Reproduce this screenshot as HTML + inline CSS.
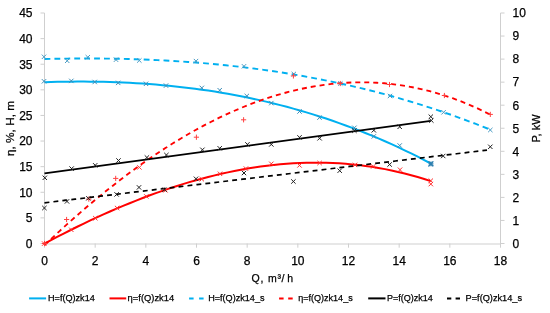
<!DOCTYPE html><html><head><meta charset="utf-8"><style>html,body{margin:0;padding:0;background:#fff;}svg{display:block;}text{font-family:"Liberation Sans",sans-serif;fill:#000;stroke:#000;stroke-width:0.25px;}</style></head><body>
<svg width="550" height="313" viewBox="0 0 550 313">
<rect width="550" height="313" fill="#fff"/>
<g stroke="#CFCFCF" stroke-width="1" fill="none">
<path d="M44.5,13.0 V244.0 M44.5,244.0 H500.5 M500.5,244.0 V13.0"/>
<path d="M40.5,243.50 H44.5"/>
<path d="M40.5,217.89 H44.5"/>
<path d="M40.5,192.28 H44.5"/>
<path d="M40.5,166.67 H44.5"/>
<path d="M40.5,141.06 H44.5"/>
<path d="M40.5,115.44 H44.5"/>
<path d="M40.5,89.83 H44.5"/>
<path d="M40.5,64.22 H44.5"/>
<path d="M40.5,38.61 H44.5"/>
<path d="M40.5,13.00 H44.5"/>
<path d="M500.5,243.50 H504.5"/>
<path d="M500.5,220.45 H504.5"/>
<path d="M500.5,197.40 H504.5"/>
<path d="M500.5,174.35 H504.5"/>
<path d="M500.5,151.30 H504.5"/>
<path d="M500.5,128.25 H504.5"/>
<path d="M500.5,105.20 H504.5"/>
<path d="M500.5,82.15 H504.5"/>
<path d="M500.5,59.10 H504.5"/>
<path d="M500.5,36.05 H504.5"/>
<path d="M500.5,13.00 H504.5"/>
<path d="M44.50,243.5 V247.7"/>
<path d="M95.17,243.5 V247.7"/>
<path d="M145.83,243.5 V247.7"/>
<path d="M196.50,243.5 V247.7"/>
<path d="M247.17,243.5 V247.7"/>
<path d="M297.83,243.5 V247.7"/>
<path d="M348.50,243.5 V247.7"/>
<path d="M399.17,243.5 V247.7"/>
<path d="M449.83,243.5 V247.7"/>
<path d="M500.50,243.5 V247.7"/>
</g>
<g font-size="12">
<text x="32.5" y="247.80" text-anchor="end">0</text>
<text x="32.5" y="222.19" text-anchor="end">5</text>
<text x="32.5" y="196.58" text-anchor="end">10</text>
<text x="32.5" y="170.97" text-anchor="end">15</text>
<text x="32.5" y="145.36" text-anchor="end">20</text>
<text x="32.5" y="119.74" text-anchor="end">25</text>
<text x="32.5" y="94.13" text-anchor="end">30</text>
<text x="32.5" y="68.52" text-anchor="end">35</text>
<text x="32.5" y="42.91" text-anchor="end">40</text>
<text x="32.5" y="17.30" text-anchor="end">45</text>
<text x="512.5" y="247.80">0</text>
<text x="512.5" y="224.75">1</text>
<text x="512.5" y="201.70">2</text>
<text x="512.5" y="178.65">3</text>
<text x="512.5" y="155.60">4</text>
<text x="512.5" y="132.55">5</text>
<text x="512.5" y="109.50">6</text>
<text x="512.5" y="86.45">7</text>
<text x="512.5" y="63.40">8</text>
<text x="512.5" y="40.35">9</text>
<text x="512.5" y="17.30">10</text>
<text x="44.50" y="265" text-anchor="middle">0</text>
<text x="95.17" y="265" text-anchor="middle">2</text>
<text x="145.83" y="265" text-anchor="middle">4</text>
<text x="196.50" y="265" text-anchor="middle">6</text>
<text x="247.17" y="265" text-anchor="middle">8</text>
<text x="297.83" y="265" text-anchor="middle">10</text>
<text x="348.50" y="265" text-anchor="middle">12</text>
<text x="399.17" y="265" text-anchor="middle">14</text>
<text x="449.83" y="265" text-anchor="middle">16</text>
<text x="500.50" y="265" text-anchor="middle">18</text>
</g>
<text x="251.4 260.6 263 267.9 277.6 281.6 287.2" y="282.2" font-size="10.5">Q, m³/h</text>
<text transform="translate(13.8,156) rotate(-90)" font-size="11" textLength="55" lengthAdjust="spacingAndGlyphs">η, %,  H, m</text>
<text transform="translate(540.2,142.4) rotate(-90)" font-size="11" textLength="28" lengthAdjust="spacingAndGlyphs">P, kW</text>
<path d="M44.50,59.01 L52.06,58.84 L59.61,58.70 L67.17,58.59 L74.72,58.52 L82.28,58.48 L89.84,58.48 L97.39,58.51 L104.95,58.58 L112.50,58.68 L120.06,58.82 L127.62,59.00 L135.17,59.22 L142.73,59.49 L150.28,59.79 L157.84,60.13 L165.39,60.52 L172.95,60.95 L180.51,61.43 L188.06,61.95 L195.62,62.52 L203.17,63.13 L210.73,63.79 L218.29,64.50 L225.84,65.27 L233.40,66.08 L240.95,66.94 L248.51,67.86 L256.07,68.82 L263.62,69.84 L271.18,70.92 L278.73,72.05 L286.29,73.24 L293.85,74.49 L301.40,75.79 L308.96,77.15 L316.51,78.57 L324.07,80.06 L331.63,81.60 L339.18,83.20 L346.74,84.87 L354.29,86.61 L361.85,88.40 L369.41,90.27 L376.96,92.19 L384.52,94.19 L392.07,96.25 L399.63,98.39 L407.18,100.59 L414.74,102.86 L422.30,105.21 L429.85,107.62 L437.41,110.11 L444.96,112.68 L452.52,115.31 L460.08,118.03 L467.63,120.82 L475.19,123.68 L482.74,126.63 L490.30,129.65" fill="none" stroke="#00B0F0" stroke-width="1.9" stroke-dasharray="5.85,4.07"/>
<path d="M44.50,81.80 L51.05,81.60 L57.59,81.44 L64.14,81.31 L70.69,81.23 L77.24,81.19 L83.78,81.19 L90.33,81.23 L96.88,81.32 L103.43,81.45 L109.97,81.62 L116.52,81.84 L123.07,82.10 L129.62,82.42 L136.16,82.78 L142.71,83.19 L149.26,83.65 L155.81,84.16 L162.35,84.73 L168.90,85.34 L175.45,86.01 L182.00,86.74 L188.54,87.51 L195.09,88.35 L201.64,89.24 L208.19,90.19 L214.73,91.20 L221.28,92.27 L227.83,93.40 L234.38,94.59 L240.92,95.84 L247.47,97.16 L254.02,98.53 L260.57,99.98 L267.11,101.49 L273.66,103.06 L280.21,104.71 L286.76,106.42 L293.30,108.20 L299.85,110.05 L306.40,111.97 L312.95,113.97 L319.49,116.03 L326.04,118.17 L332.59,120.38 L339.14,122.67 L345.68,125.04 L352.23,127.48 L358.78,130.00 L365.33,132.60 L371.87,135.27 L378.42,138.03 L384.97,140.87 L391.52,143.79 L398.06,146.80 L404.61,149.89 L411.16,153.06 L417.71,156.32 L424.25,159.66 L430.80,163.10" fill="none" stroke="#00B0F0" stroke-width="2.0" transform="translate(0,0.4)"/>
<path d="M44.50,244.80 L52.06,237.66 L59.61,230.66 L67.17,223.78 L74.72,217.05 L82.28,210.46 L89.84,204.01 L97.39,197.70 L104.95,191.53 L112.50,185.52 L120.06,179.65 L127.62,173.93 L135.17,168.37 L142.73,162.96 L150.28,157.70 L157.84,152.61 L165.39,147.68 L172.95,142.90 L180.51,138.30 L188.06,133.86 L195.62,129.58 L203.17,125.48 L210.73,121.55 L218.29,117.79 L225.84,114.21 L233.40,110.80 L240.95,107.57 L248.51,104.53 L256.07,101.67 L263.62,98.99 L271.18,96.50 L278.73,94.20 L286.29,92.09 L293.85,90.18 L301.40,88.45 L308.96,86.93 L316.51,85.60 L324.07,84.47 L331.63,83.55 L339.18,82.83 L346.74,82.31 L354.29,82.01 L361.85,81.91 L369.41,82.02 L376.96,82.35 L384.52,82.89 L392.07,83.66 L399.63,84.64 L407.18,85.84 L414.74,87.26 L422.30,88.91 L429.85,90.79 L437.41,92.89 L444.96,95.23 L452.52,97.80 L460.08,100.60 L467.63,103.64 L475.19,106.92 L482.74,110.44 L490.30,114.20" fill="none" stroke="#FF0000" stroke-width="1.85" stroke-dasharray="5,3.97" transform="translate(0,0.4)"/>
<path d="M44.50,243.59 L51.05,240.11 L57.59,236.69 L64.14,233.32 L70.69,230.01 L77.24,226.77 L83.78,223.59 L90.33,220.47 L96.88,217.42 L103.43,214.44 L109.97,211.53 L116.52,208.68 L123.07,205.91 L129.62,203.21 L136.16,200.59 L142.71,198.03 L149.26,195.56 L155.81,193.17 L162.35,190.85 L168.90,188.61 L175.45,186.46 L182.00,184.39 L188.54,182.41 L195.09,180.51 L201.64,178.70 L208.19,176.98 L214.73,175.35 L221.28,173.81 L227.83,172.36 L234.38,171.01 L240.92,169.75 L247.47,168.60 L254.02,167.54 L260.57,166.58 L267.11,165.72 L273.66,164.96 L280.21,164.31 L286.76,163.76 L293.30,163.32 L299.85,162.99 L306.40,162.77 L312.95,162.65 L319.49,162.65 L326.04,162.77 L332.59,163.00 L339.14,163.34 L345.68,163.80 L352.23,164.39 L358.78,165.09 L365.33,165.91 L371.87,166.86 L378.42,167.93 L384.97,169.12 L391.52,170.45 L398.06,171.90 L404.61,173.48 L411.16,175.19 L417.71,177.04 L424.25,179.02 L430.80,181.13" fill="none" stroke="#FF0000" stroke-width="2.0"/>
<path d="M44.50,172.81 L430.80,120.35" fill="none" stroke="#000000" stroke-width="1.8" transform="translate(0,0.5)"/>
<path d="M44.50,202.83 L59.76,201.01 L75.02,199.19 L90.28,197.37 L105.53,195.55 L120.79,193.73 L136.05,191.91 L151.31,190.09 L166.57,188.27 L181.83,186.45 L197.09,184.64 L212.34,182.82 L227.60,181.00 L242.86,179.18 L258.12,177.36 L273.38,175.54 L288.64,173.73 L303.90,171.91 L319.16,170.09 L334.41,168.28 L349.67,166.46 L364.93,164.64 L380.19,162.83 L395.45,161.01 L410.71,159.19 L425.97,157.38 L441.22,155.56 L456.48,153.75 L471.74,151.93 L487.00,150.12" fill="none" stroke="#000000" stroke-width="1.7" stroke-dasharray="4.9,4.1"/>
<path d="M41.80,54.60 L46.20,59.00 M41.80,59.00 L46.20,54.60 M65.00,58.60 L69.40,63.00 M65.00,63.00 L69.40,58.60 M85.60,55.00 L90.00,59.40 M85.60,59.40 L90.00,55.00 M113.80,57.50 L118.20,61.90 M113.80,61.90 L118.20,57.50 M137.10,58.30 L141.50,62.70 M137.10,62.70 L141.50,58.30 M193.80,58.90 L198.20,63.30 M193.80,63.30 L198.20,58.90 M241.80,64.10 L246.20,68.50 M241.80,68.50 L246.20,64.10 M291.60,71.80 L296.00,76.20 M291.60,76.20 L296.00,71.80 M338.10,81.30 L342.50,85.70 M338.10,85.70 L342.50,81.30 M387.80,93.80 L392.20,98.20 M387.80,98.20 L392.20,93.80 M441.40,110.10 L445.80,114.50 M441.40,114.50 L445.80,110.10 M488.10,127.80 L492.50,132.20 M488.10,132.20 L492.50,127.80" stroke="#4A9CC4" stroke-width="1" fill="none"/>
<path d="M41.80,79.10 L46.20,83.50 M41.80,83.50 L46.20,79.10 M69.10,78.70 L73.50,83.10 M69.10,83.10 L73.50,78.70 M92.50,79.80 L96.90,84.20 M92.50,84.20 L96.90,79.80 M116.00,80.70 L120.40,85.10 M116.00,85.10 L120.40,80.70 M143.80,81.60 L148.20,86.00 M143.80,86.00 L148.20,81.60 M163.80,83.40 L168.20,87.80 M163.80,87.80 L168.20,83.40 M199.60,85.70 L204.00,90.10 M199.60,90.10 L204.00,85.70 M217.50,88.00 L221.90,92.40 M217.50,92.40 L221.90,88.00 M244.60,93.80 L249.00,98.20 M244.60,98.20 L249.00,93.80 M269.10,100.90 L273.50,105.30 M269.10,105.30 L273.50,100.90 M297.30,109.30 L301.70,113.70 M297.30,113.70 L301.70,109.30 M317.30,115.40 L321.70,119.80 M317.30,119.80 L321.70,115.40 M352.20,125.60 L356.60,130.00 M352.20,130.00 L356.60,125.60 M371.60,134.20 L376.00,138.60 M371.60,138.60 L376.00,134.20 M397.50,143.30 L401.90,147.70 M397.50,147.70 L401.90,143.30 M428.60,161.80 L433.00,166.20 M428.60,166.20 L433.00,161.80 M428.60,161.80 L433.00,166.20 M428.60,166.20 L433.00,161.80" stroke="#3E8FB8" stroke-width="1" fill="none"/>
<path d="M428.60,163.80 H433.40 M431.00,161.40 V166.20" stroke="#2F7FAF" stroke-width="1.3" fill="none"/>
<path d="M428.60,161.40 L433.40,166.20 M428.60,166.20 L433.40,161.40" stroke="#2F7FAF" stroke-width="1.3" fill="none"/>
<path d="M41.90,243.50 H47.10 M44.50,240.90 V246.10 M64.00,219.50 H69.20 M66.60,216.90 V222.10 M86.20,199.10 H91.40 M88.80,196.50 V201.70 M113.10,178.40 H118.30 M115.70,175.80 V181.00 M193.80,137.20 H199.00 M196.40,134.60 V139.80 M241.00,119.80 H246.20 M243.60,117.20 V122.40 M290.80,75.90 H296.00 M293.40,73.30 V78.50 M337.70,83.50 H342.90 M340.30,80.90 V86.10 M386.90,84.50 H392.10 M389.50,81.90 V87.10 M441.80,95.50 H447.00 M444.40,92.90 V98.10 M487.70,114.40 H492.90 M490.30,111.80 V117.00" stroke="#FF4040" stroke-width="1" fill="none"/>
<path d="M137.20,165.20 L141.60,169.60 M137.20,169.60 L141.60,165.20" stroke="#FF4040" stroke-width="1" fill="none"/>
<path d="M42.00,241.40 L46.40,245.80 M42.00,245.80 L46.40,241.40 M69.10,227.60 L73.50,232.00 M69.10,232.00 L73.50,227.60 M93.10,216.00 L97.50,220.40 M93.10,220.40 L97.50,216.00 M114.90,205.80 L119.30,210.20 M114.90,210.20 L119.30,205.80 M144.10,194.20 L148.50,198.60 M144.10,198.60 L148.50,194.20 M163.20,188.10 L167.60,192.50 M163.20,192.50 L167.60,188.10 M199.60,177.00 L204.00,181.40 M199.60,181.40 L204.00,177.00 M217.80,171.60 L222.20,176.00 M217.80,176.00 L222.20,171.60 M243.70,166.40 L248.10,170.80 M243.70,170.80 L248.10,166.40 M269.10,161.60 L273.50,166.00 M269.10,166.00 L273.50,161.60 M297.30,163.20 L301.70,167.60 M297.30,167.60 L301.70,163.20 M317.40,160.80 L321.80,165.20 M317.40,165.20 L321.80,160.80 M352.80,162.70 L357.20,167.10 M352.80,167.10 L357.20,162.70 M371.00,164.20 L375.40,168.60 M371.00,168.60 L375.40,164.20 M397.80,167.50 L402.20,171.90 M397.80,171.90 L402.20,167.50 M428.60,178.50 L433.00,182.90 M428.60,182.90 L433.00,178.50 M428.60,181.90 L433.00,186.30 M428.60,186.30 L433.00,181.90" stroke="#FF3030" stroke-width="1" fill="none"/>
<path d="M42.60,175.60 L47.00,180.00 M42.60,180.00 L47.00,175.60 M69.40,166.40 L73.80,170.80 M69.40,170.80 L73.80,166.40 M93.00,163.10 L97.40,167.50 M93.00,167.50 L97.40,163.10 M116.30,158.30 L120.70,162.70 M116.30,162.70 L120.70,158.30 M144.70,155.30 L149.10,159.70 M144.70,159.70 L149.10,155.30 M164.20,152.80 L168.60,157.20 M164.20,157.20 L168.60,152.80 M200.20,147.60 L204.60,152.00 M200.20,152.00 L204.60,147.60 M217.50,146.10 L221.90,150.50 M217.50,150.50 L221.90,146.10 M245.20,142.20 L249.60,146.60 M245.20,146.60 L249.60,142.20 M269.10,142.20 L273.50,146.60 M269.10,146.60 L273.50,142.20 M297.30,135.20 L301.70,139.60 M297.30,139.60 L301.70,135.20 M317.40,136.10 L321.80,140.50 M317.40,140.50 L321.80,136.10 M352.20,128.50 L356.60,132.90 M352.20,132.90 L356.60,128.50 M371.60,128.10 L376.00,132.50 M371.60,132.50 L376.00,128.10 M397.50,124.60 L401.90,129.00 M397.50,129.00 L401.90,124.60 M428.60,114.50 L433.00,118.90 M428.60,118.90 L433.00,114.50 M429.10,118.30 L433.50,122.70 M429.10,122.70 L433.50,118.30" stroke="#202020" stroke-width="1" fill="none"/>
<path d="M42.20,205.80 L46.60,210.20 M42.20,210.20 L46.60,205.80 M64.80,199.20 L69.20,203.60 M64.80,203.60 L69.20,199.20 M86.20,196.10 L90.60,200.50 M86.20,200.50 L90.60,196.10 M114.40,192.20 L118.80,196.60 M114.40,196.60 L118.80,192.20 M136.80,185.20 L141.20,189.60 M136.80,189.60 L141.20,185.20 M162.30,187.50 L166.70,191.90 M162.30,191.90 L166.70,187.50 M193.80,176.60 L198.20,181.00 M193.80,181.00 L198.20,176.60 M241.80,170.80 L246.20,175.20 M241.80,175.20 L246.20,170.80 M291.20,179.30 L295.60,183.70 M291.20,183.70 L295.60,179.30 M337.50,168.50 L341.90,172.90 M337.50,172.90 L341.90,168.50 M387.40,162.30 L391.80,166.70 M387.40,166.70 L391.80,162.30 M441.00,153.80 L445.40,158.20 M441.00,158.20 L445.40,153.80 M488.10,144.60 L492.50,149.00 M488.10,149.00 L492.50,144.60" stroke="#202020" stroke-width="1" fill="none"/>
<g stroke-width="2" fill="none">
<path d="M29.1,298.4 H46.1" stroke="#00B0F0"/>
<path d="M109.5,298.4 H126.2" stroke="#FF0000"/>
<path d="M189.1,298.4 H193.6 M199.1,298.4 H203.6" stroke="#00B0F0"/>
<path d="M279.1,298.4 H283.6 M288.2,298.4 H292.7" stroke="#FF0000"/>
<path d="M368.2,298.4 H385.5" stroke="#000000"/>
<path d="M447,298.4 H451.3 M455.6,298.4 H460" stroke="#000000"/>
</g>
<g font-size="9.2">
<text x="48" y="300.7" textLength="46.8" lengthAdjust="spacingAndGlyphs">H=f(Q)zk14</text>
<text x="127.6" y="300.7" textLength="46.6" lengthAdjust="spacingAndGlyphs">η=f(Q)zk14</text>
<text x="208.2" y="300.7" textLength="56.3" lengthAdjust="spacingAndGlyphs">H=f(Q)zk14_s</text>
<text x="298.2" y="300.7" textLength="54.5" lengthAdjust="spacingAndGlyphs">η=f(Q)zk14_s</text>
<text x="386.9" y="300.7" textLength="45.8" lengthAdjust="spacingAndGlyphs">P=f(Q)zk14</text>
<text x="465.6" y="300.7" textLength="56.4" lengthAdjust="spacingAndGlyphs">P=f(Q)zk14_s</text>
</g>
</svg></body></html>
